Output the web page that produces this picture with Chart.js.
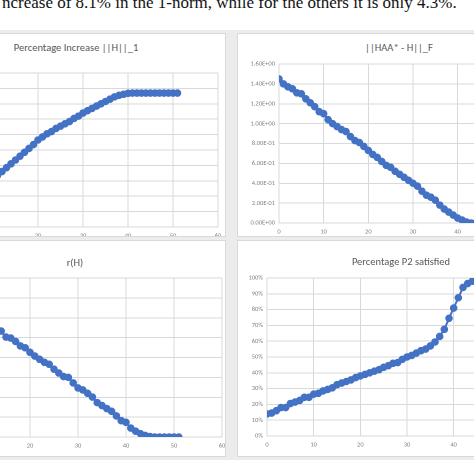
<!DOCTYPE html>
<html><head><meta charset="utf-8">
<script src="https://cdn.jsdelivr.net/npm/chart.js@4"></script>
<style>
body{margin:0;width:474px;height:474px;overflow:hidden;background:#fff;position:relative;font-family:Calibri,Carlito,"Open Sans",sans-serif}
.gap{position:absolute;left:0;top:30px;width:474px;height:430px;background:#ececec}
.panel{position:absolute;overflow:hidden;background:#fff;border:1px solid #d9d9d9;box-sizing:border-box}
.panel canvas{position:absolute}
.title{position:absolute;font-size:10.5px;color:#595959;white-space:nowrap;transform:translate(-50%,-50%)}
.txt{position:absolute;left:2px;top:-7px;font-family:"Liberation Serif","DejaVu Serif",serif;font-size:17px;white-space:nowrap;color:#111}
</style></head><body>
<div class="txt">ncrease of 8.1% in the 1-norm, while for the others it is only 4.3%.</div>
<div class="gap"></div>
<script>
const xs = Array.from({length:52},(_,i)=>i);
const incValues = [0.4,0.7,1.0,1.3,1.6,1.8,2.1,2.3,2.6,2.8,3.1,3.35,3.6,3.85,4.1,4.35,4.6,4.85,5.1,5.35,5.65,5.85,6.05,6.2,6.4,6.55,6.7,6.85,7.05,7.2,7.4,7.55,7.7,7.85,8.0,8.15,8.3,8.45,8.55,8.62,8.68,8.7,8.7,8.7,8.7,8.7,8.7,8.7,8.7,8.7,8.7,8.7];
const frobValues = [1.45,1.40,1.37,1.35,1.31,1.30,1.25,1.21,1.17,1.12,1.10,1.04,1.00,0.97,0.94,0.92,0.87,0.83,0.81,0.77,0.73,0.69,0.66,0.62,0.58,0.56,0.52,0.49,0.46,0.43,0.40,0.37,0.32,0.28,0.26,0.23,0.18,0.14,0.11,0.08,0.05,0.03,0.01,0,0,0,0,0,0,0,0,0];
const rValues = [8.0,7.8,7.6,7.4,7.2,7.0,6.8,6.6,6.4,6.2,6.0,5.85,5.65,5.5,5.33,5.03,4.98,4.81,4.58,4.49,4.26,4.07,3.91,3.76,3.66,3.41,3.22,3.04,3.00,2.72,2.47,2.37,2.20,2.01,1.73,1.58,1.43,1.29,1.06,0.82,0.74,0.45,0.29,0.17,0.08,0.02,0,0,0,0,0,0];
const p2Values = [0.14,0.145,0.16,0.18,0.18,0.205,0.215,0.225,0.245,0.245,0.265,0.27,0.285,0.295,0.305,0.325,0.335,0.345,0.355,0.37,0.38,0.39,0.40,0.41,0.42,0.435,0.445,0.46,0.465,0.485,0.50,0.51,0.525,0.54,0.55,0.57,0.595,0.63,0.675,0.745,0.81,0.875,0.94,0.965,0.98,1,1,1,1,1,1,1];
const xTicks = [0,10,20,30,40,50,60];

function fmtE(v){ if(v===0) return '0.00E+00'; let e=Math.floor(Math.log10(Math.abs(v))+1e-9); let m=v/Math.pow(10,e); let s=e<0?'-':'+'; return m.toFixed(2)+'E'+s+String(Math.abs(e)).padStart(2,'0'); }

function make(o){
  const p=document.createElement('div'); p.className='panel';
  Object.assign(p.style,{left:o.wl+'px',top:o.wt+'px',width:o.ww+'px',height:o.wh+'px'});
  document.body.appendChild(p);
  const yW=50,padT=10,padR=10,xH=20;
  const pw=o.pr-o.pl, ph=o.pb-o.pt;
  const c=document.createElement('canvas');
  c.width=pw+yW+padR; c.height=ph+padT+xH;
  c.style.width=c.width+'px'; c.style.height=c.height+'px';
  c.style.left=(o.pl-yW-o.wl-1)+'px'; c.style.top=(o.pt-padT-o.wt-1)+'px';
  p.appendChild(c);
  const t=document.createElement('div'); t.className='title'; t.textContent=o.title;
  t.style.left=(o.tx-o.wl)+'px'; t.style.top=(o.ty-o.wt)+'px'; p.appendChild(t);
  const tickFont={size:6.5,family:'Carlito, "Open Sans", sans-serif'};
  new Chart(c,{type:'scatter',
    data:{datasets:[{data:xs.map((x,i)=>({x,y:o.vals[i]})),showLine:true,borderColor:'#4472c4',backgroundColor:'#4472c4',borderWidth:2,pointRadius:2.8,pointHoverRadius:2.8}]},
    options:{responsive:false,animation:false,devicePixelRatio:2,layout:{padding:{top:padT,right:padR,left:0,bottom:0}},
      plugins:{legend:{display:false},tooltip:{enabled:false}},
      scales:{
        x:{type:'linear',min:0,max:60,afterBuildTicks:s=>{s.ticks=xTicks.map(v=>({value:v}));},afterFit:s=>{s.height=xH;},
          grid:{color:'#d9d9d9',drawTicks:false},border:{color:'#d9d9d9'},ticks:{color:'#7f7f7f',font:tickFont,padding:5}},
        y:{min:o.ymin,max:o.ymax,afterFit:s=>{s.width=yW;},
          grid:{color:'#d9d9d9',drawTicks:false},border:{display:false},
          ticks:{stepSize:o.step,color:'#7f7f7f',font:tickFont,padding:4,callback:o.fmt}}}}});
}
make({wl:-10,wt:33,ww:236,wh:204,pl:-52,pr:218,pt:73,pb:227,ymin:0,ymax:10,step:1,fmt:v=>'',vals:incValues,title:'Percentage Increase ||H||_1',tx:75,ty:46});
make({wl:237,wt:33,ww:245,wh:204,pl:279,pr:547,pt:64,pb:223,ymin:0,ymax:1.6,step:0.2,fmt:v=>fmtE(v),vals:frobValues,title:'||HAA* - H||_F',tx:398,ty:46});
make({wl:-10,wt:240,ww:236,wh:217,pl:-66,pr:222,pt:278,pb:437,ymin:0,ymax:8,step:1,fmt:v=>'',vals:rValues,title:'r(H)',tx:74,ty:261});
make({wl:237,wt:240,ww:245,wh:217,pl:267,pr:547,pt:278,pb:436,ymin:0,ymax:1,step:0.1,fmt:v=>Math.round(v*100)+'%',vals:p2Values,title:'Percentage P2 satisfied',tx:400,ty:260});
</script>
</body></html>
